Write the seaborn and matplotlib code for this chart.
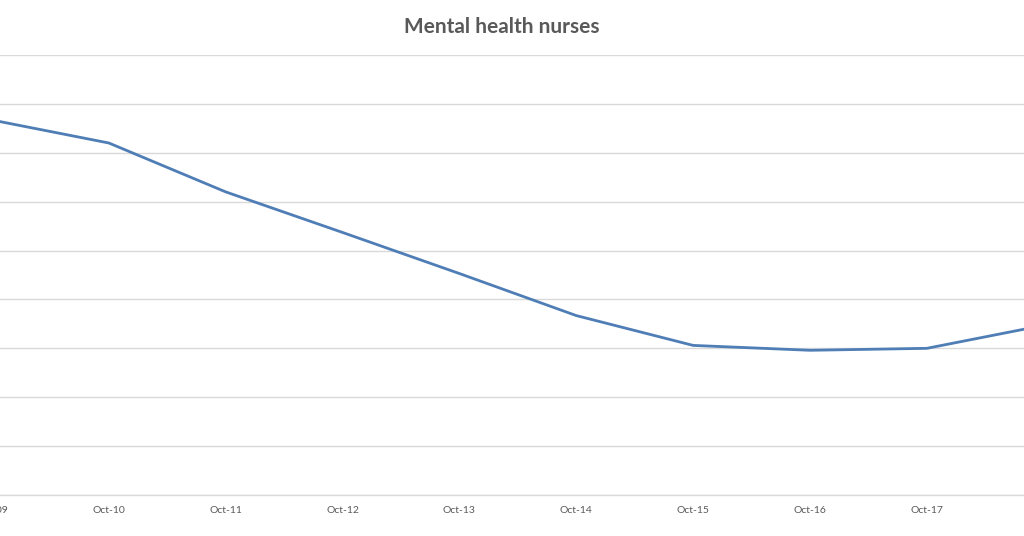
import pandas as pd
import seaborn as sns
import matplotlib.pyplot as plt

# data (no y labels shown, values approximate)
months = ['Oct-09', 'Oct-10', 'Oct-11', 'Oct-12', 'Oct-13',
          'Oct-14', 'Oct-15', 'Oct-16', 'Oct-17', 'Oct-18']
nurses = [39670, 39200, 38200, 37370, 36530,
          35670, 35060, 34960, 35000, 35470]

df = pd.DataFrame({'month': months, 'nurses': nurses})
df['pos'] = range(len(df))

sns.set_style('white')
plt.rcParams['font.family'] = ['Lato', 'DejaVu Sans']

fig = plt.figure(figsize=(10.24, 5.36), dpi=100)
# plot area is wider than the picture: it is cropped on both sides
W, H = 1024, 536
left_px, right_px = -38, 1066
top_px, bottom_px = 55, 495
ax = fig.add_axes([left_px / W, 1 - bottom_px / H,
                   (right_px - left_px) / W, (bottom_px - top_px) / H])

sns.lineplot(data=df, x='pos', y='nurses', ax=ax, color='#4f7db5',
             linewidth=2.0, clip_on=False)

ax.set_xlim(-0.2567, 9.191)
ax.set_ylim(32000, 41000)
ax.set_yticks(range(32000, 41001, 1000))
ax.yaxis.grid(True, color='#d9d9d9', linewidth=1)
ax.set_yticklabels([])
ax.tick_params(axis='y', length=0)

ax.set_xticks(df['pos'])
ax.set_xticklabels(df['month'], fontsize=7.5, color='#595959')
ax.tick_params(axis='x', length=3, color='#d9d9d9', pad=5)
ax.set_xlabel('')
ax.set_ylabel('')

for s in ['top', 'left', 'right']:
    ax.spines[s].set_visible(False)
ax.spines['bottom'].set_color('#d9d9d9')
ax.spines['bottom'].set_linewidth(1)

fig.text(502 / W, 1 - 27 / H, 'Mental health nurses', ha='center', va='center',
         fontsize=15, fontweight='bold', color='#595959')

fig.savefig('out.png', dpi=100)
